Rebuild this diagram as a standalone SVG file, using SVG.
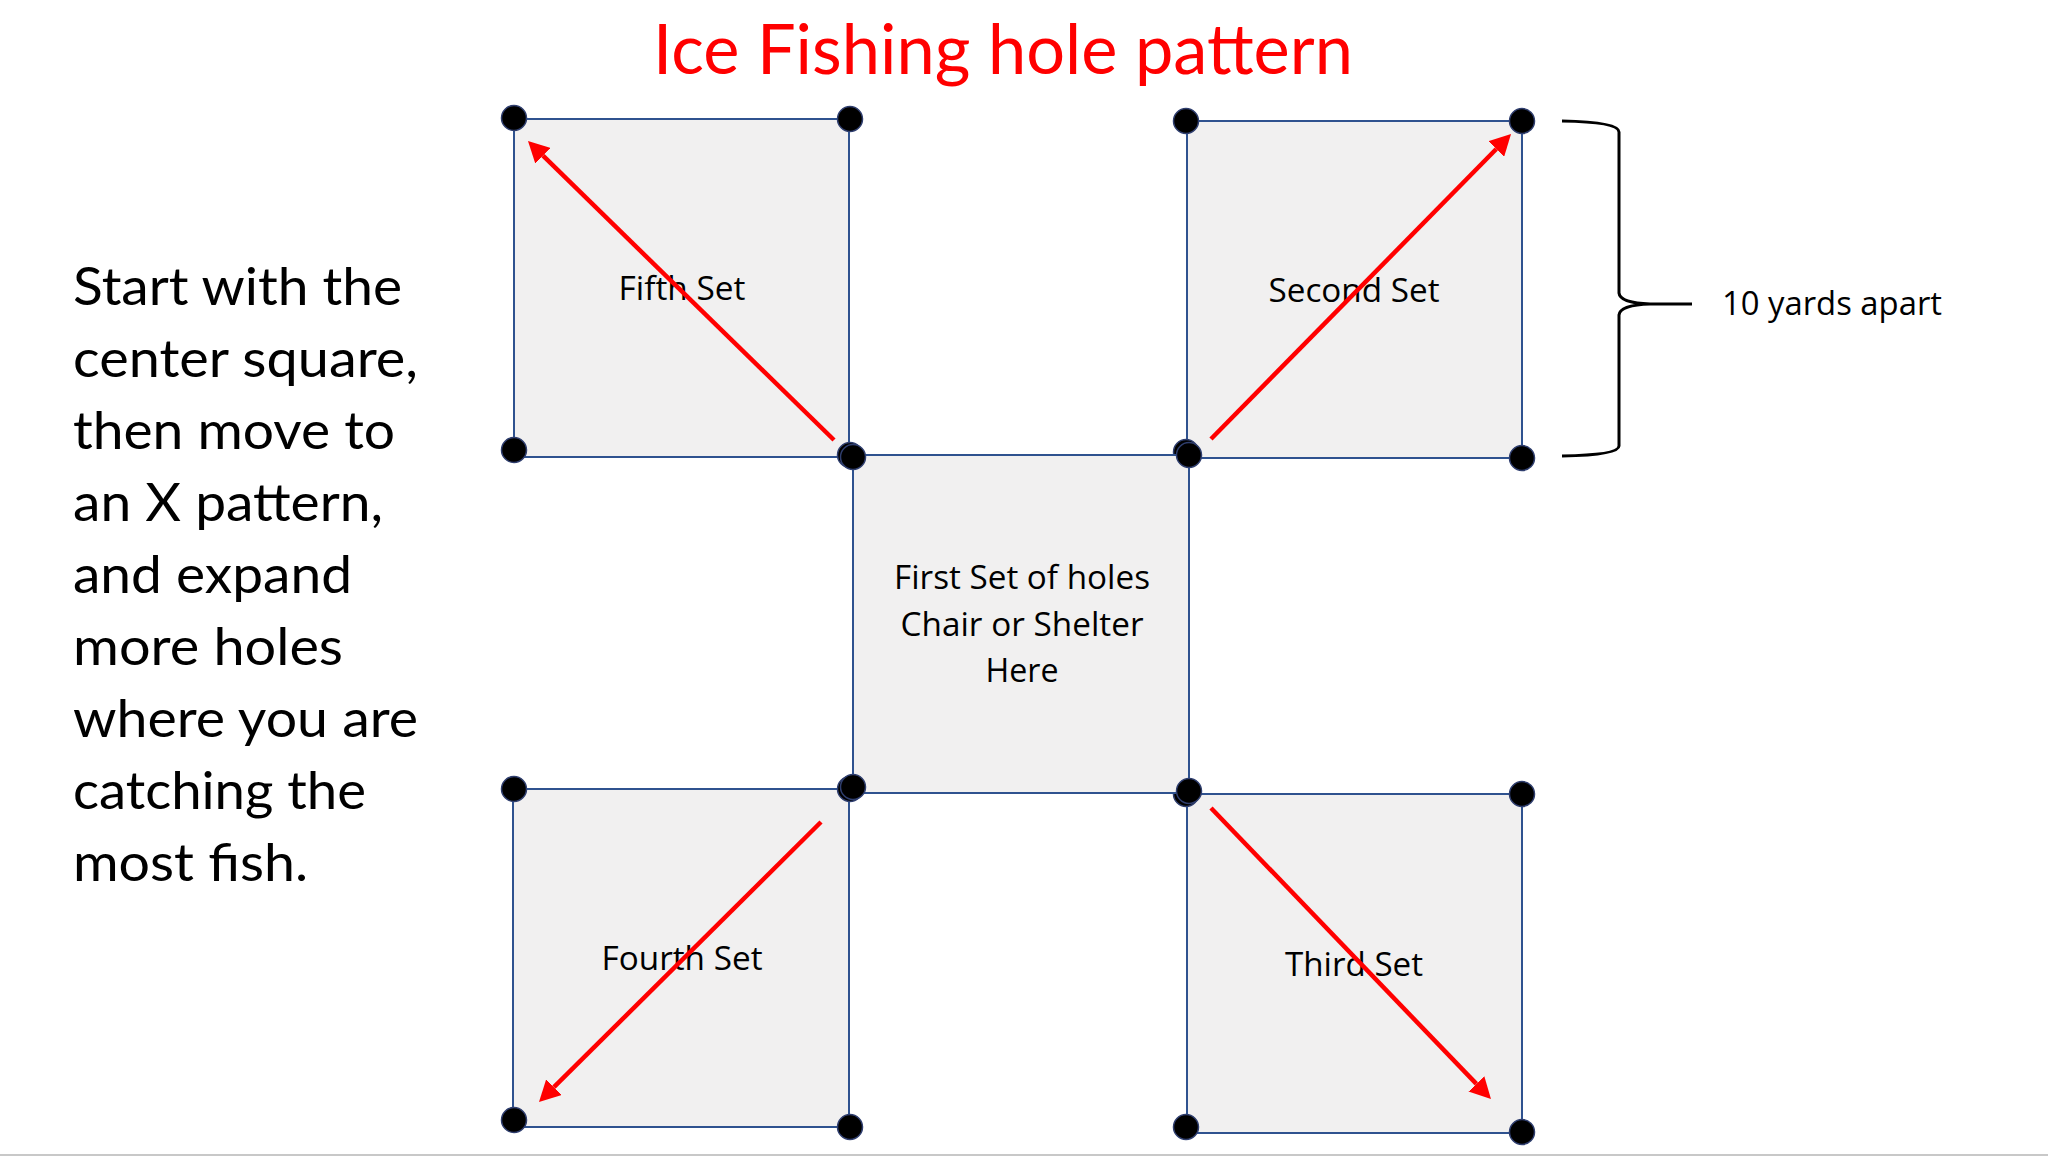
<svg xmlns="http://www.w3.org/2000/svg" width="2048" height="1156" viewBox="0 0 2048 1156">
  <style>
    .sq { fill: #F1F0F0; stroke: #2F528F; stroke-width: 2; }
    .dot { fill: #000000; stroke: #2F3E6E; stroke-width: 1.5; }
    .lbl { font-family: "Open Sans", "Noto Sans", "DejaVu Sans", sans-serif; font-size: 32px; fill: #000000; text-anchor: middle; }
    .side { font-family: "Lato", "Liberation Sans", sans-serif; font-size: 53px; fill: #000000; }
    .title { font-family: "Lato", "Liberation Sans", sans-serif; font-size: 69px; fill: #FF0000; }
    .arrow { stroke: #FF0000; stroke-width: 4.5; fill: none; marker-end: url(#head); }
    .brace { stroke: #000000; stroke-width: 3; fill: none; }
  </style>
  <defs>
    <marker id="head" markerUnits="userSpaceOnUse" viewBox="0 0 21 22" markerWidth="21" markerHeight="22" refX="0" refY="11" orient="auto">
      <path d="M0,0 L21,11 L0,22 z" fill="#FF0000"/>
    </marker>
  </defs>
  <rect x="0" y="0" width="2048" height="1156" fill="#FFFFFF"/>
  <rect x="0" y="1154" width="2048" height="2" fill="#C8C8C8"/>

  <g id="title">
    <text class="title" x="653" y="74" textLength="700" lengthAdjust="spacingAndGlyphs">Ice Fishing hole pattern</text>
  </g>

  <g id="instructions">
    <text class="side" x="73" y="305" textLength="329" lengthAdjust="spacingAndGlyphs">Start with the</text>
    <text class="side" x="73" y="377" textLength="345" lengthAdjust="spacingAndGlyphs">center square,</text>
    <text class="side" x="73" y="449" textLength="322" lengthAdjust="spacingAndGlyphs">then move to</text>
    <text class="side" x="73" y="521" textLength="310" lengthAdjust="spacingAndGlyphs">an X pattern,</text>
    <text class="side" x="73" y="593" textLength="279" lengthAdjust="spacingAndGlyphs">and expand</text>
    <text class="side" x="73" y="665" textLength="270" lengthAdjust="spacingAndGlyphs">more holes</text>
    <text class="side" x="73" y="737" textLength="345" lengthAdjust="spacingAndGlyphs">where you are</text>
    <text class="side" x="73" y="809" textLength="293" lengthAdjust="spacingAndGlyphs">catching the</text>
    <text class="side" x="73" y="881" textLength="235" lengthAdjust="spacingAndGlyphs">most fish.</text>
  </g>

  <g id="fifth-set">
    <rect class="sq" x="514" y="119" width="335" height="338"/>
    <text class="lbl" x="682" y="300" textLength="127" lengthAdjust="spacingAndGlyphs">Fifth Set</text>
    <circle class="dot" cx="514" cy="118" r="12.5"/>
    <circle class="dot" cx="850" cy="119" r="12.5"/>
    <circle class="dot" cx="514" cy="450" r="12.5"/>
    <circle class="dot" cx="850" cy="455" r="12.5"/>
  </g>

  <g id="second-set">
    <rect class="sq" x="1187" y="121" width="335" height="337"/>
    <text class="lbl" x="1354" y="302" textLength="171" lengthAdjust="spacingAndGlyphs">Second Set</text>
    <circle class="dot" cx="1186" cy="121" r="12.5"/>
    <circle class="dot" cx="1522" cy="121" r="12.5"/>
    <circle class="dot" cx="1186" cy="452" r="12.5"/>
    <circle class="dot" cx="1522" cy="458" r="12.5"/>
  </g>

  <g id="fourth-set">
    <rect class="sq" x="513" y="789" width="336" height="338"/>
    <text class="lbl" x="682" y="970" textLength="161" lengthAdjust="spacingAndGlyphs">Fourth Set</text>
    <circle class="dot" cx="514" cy="789" r="12.5"/>
    <circle class="dot" cx="850" cy="789" r="12.5"/>
    <circle class="dot" cx="514" cy="1120" r="12.5"/>
    <circle class="dot" cx="850" cy="1127" r="12.5"/>
  </g>

  <g id="third-set">
    <rect class="sq" x="1187" y="794" width="335" height="339"/>
    <text class="lbl" x="1354" y="976" textLength="138" lengthAdjust="spacingAndGlyphs">Third Set</text>
    <circle class="dot" cx="1186" cy="794" r="12.5"/>
    <circle class="dot" cx="1522" cy="794" r="12.5"/>
    <circle class="dot" cx="1186" cy="1127" r="12.5"/>
    <circle class="dot" cx="1522" cy="1132" r="12.5"/>
  </g>

  <g id="first-set">
    <rect class="sq" x="853" y="455" width="336" height="338"/>
    <text class="lbl" x="1022" y="589" textLength="256" lengthAdjust="spacingAndGlyphs">First Set of holes</text>
    <text class="lbl" x="1022" y="636" textLength="243" lengthAdjust="spacingAndGlyphs">Chair or Shelter</text>
    <text class="lbl" x="1022" y="682" textLength="73" lengthAdjust="spacingAndGlyphs">Here</text>
    <circle class="dot" cx="853" cy="457" r="12.5"/>
    <circle class="dot" cx="1189" cy="455" r="12.5"/>
    <circle class="dot" cx="853" cy="787" r="12.5"/>
    <circle class="dot" cx="1189" cy="791" r="12.5"/>
  </g>

  <g id="connectors">
    <line class="arrow" x1="834" y1="440" x2="543" y2="155.7"/>
    <line class="arrow" x1="1211" y1="439" x2="1496.3" y2="149"/>
    <line class="arrow" x1="1211" y1="808" x2="1476.4" y2="1083.9"/>
    <line class="arrow" x1="821" y1="822" x2="553.9" y2="1087.2"/>
  </g>

  <g id="spacing-brace">
    <path class="brace" d="M1562,121 Q1619,122 1619,132 L1619,293 Q1620,303 1650,304 L1692,304 M1650,304 Q1620,305 1619,315 L1619,446 Q1619,455 1562,456"/>
    <text class="lbl" x="1722" y="315" style="text-anchor:start" textLength="220" lengthAdjust="spacingAndGlyphs">10 yards apart</text>
  </g>
</svg>
